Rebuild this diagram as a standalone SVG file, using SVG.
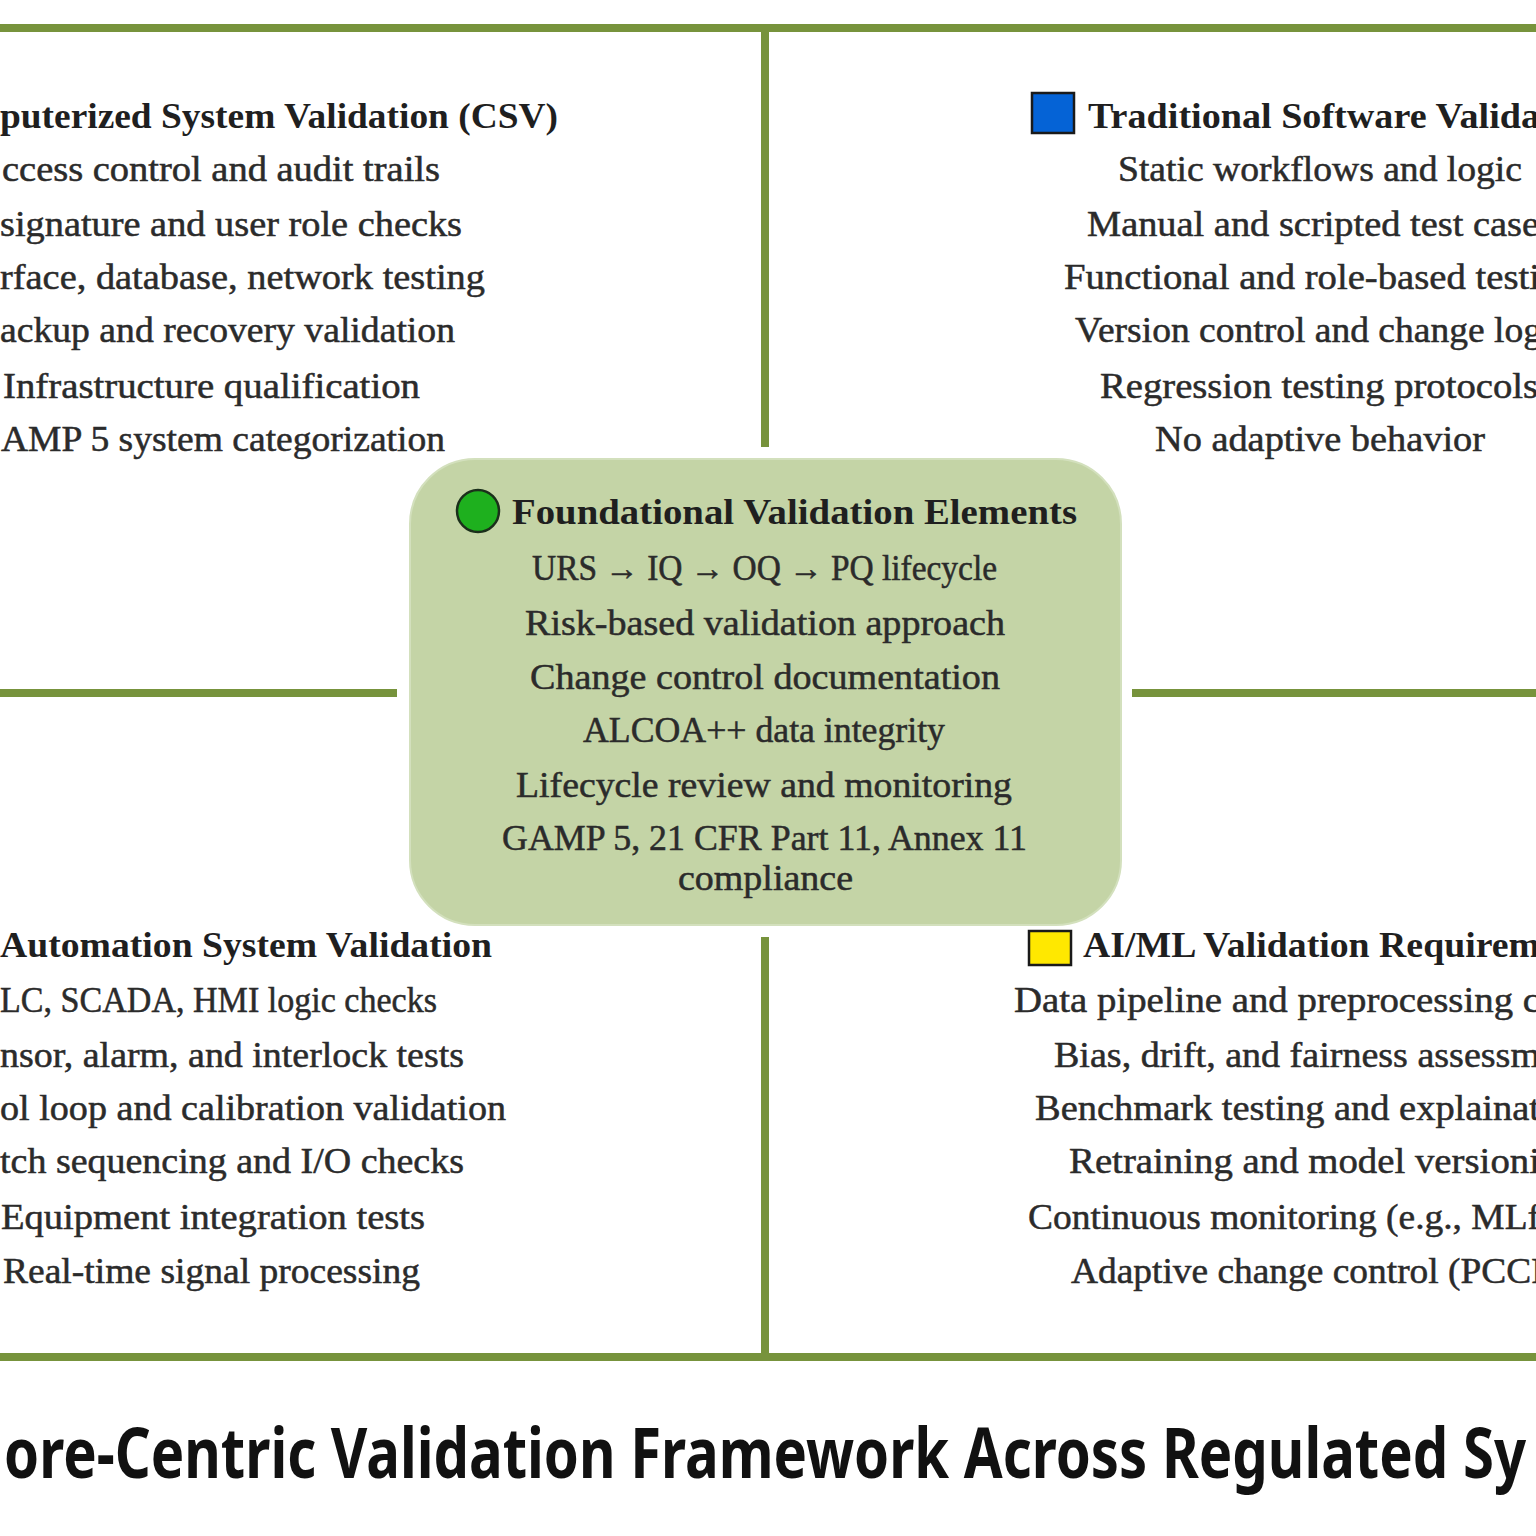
<svg xmlns="http://www.w3.org/2000/svg" width="1536" height="1536" viewBox="0 0 1536 1536">
<style>
.t{font-family:"Liberation Serif","DejaVu Serif",serif;font-size:35px;fill:#2b2b2b;stroke:#2b2b2b;stroke-width:0.5}
.h{font-family:"Liberation Serif","DejaVu Serif",serif;font-size:36px;font-weight:bold;fill:#1f1f1f}
.ln{stroke:#77933c;stroke-width:8;fill:none}
.title{font-family:"Noto Sans","Liberation Sans",sans-serif;font-size:50px;font-weight:bold;fill:#111}
</style>
<rect width="1536" height="1536" fill="#ffffff"/>
<g id="connectors">
<line class="ln" x1="0" y1="28" x2="1536" y2="28"/>
<line class="ln" x1="0" y1="1357" x2="1536" y2="1357"/>
<line class="ln" x1="765" y1="32" x2="765" y2="447"/>
<line class="ln" x1="765" y1="937" x2="765" y2="1354"/>
<line class="ln" x1="0" y1="693" x2="397" y2="693"/>
<line class="ln" x1="1132" y1="693" x2="1536" y2="693"/>
</g>
<g id="csv">
<text class="h" x="0" y="128" textLength="558" lengthAdjust="spacingAndGlyphs">puterized System Validation (CSV)</text>
<text class="t" x="2" y="181" textLength="438" lengthAdjust="spacingAndGlyphs">ccess control and audit trails</text>
<text class="t" x="0" y="236" textLength="462" lengthAdjust="spacingAndGlyphs">signature and user role checks</text>
<text class="t" x="0" y="289" textLength="485" lengthAdjust="spacingAndGlyphs">rface, database, network testing</text>
<text class="t" x="0" y="342" textLength="455" lengthAdjust="spacingAndGlyphs">ackup and recovery validation</text>
<text class="t" x="3" y="398" textLength="417" lengthAdjust="spacingAndGlyphs">Infrastructure qualification</text>
<text class="t" x="1" y="451" textLength="444" lengthAdjust="spacingAndGlyphs">AMP 5 system categorization</text>
</g>
<g id="traditional">
<rect x="1032" y="93" width="42" height="40" fill="#0563d6" stroke="#1a1a1a" stroke-width="2.5"/>
<text class="h" x="1088" y="128" textLength="452" lengthAdjust="spacingAndGlyphs">Traditional Software Valida</text>
<text class="t" x="1118" y="181" textLength="404" lengthAdjust="spacingAndGlyphs">Static workflows and logic</text>
<text class="t" x="1087" y="236" textLength="452" lengthAdjust="spacingAndGlyphs">Manual and scripted test case</text>
<text class="t" x="1064" y="289" textLength="476" lengthAdjust="spacingAndGlyphs">Functional and role-based testi</text>
<text class="t" x="1075" y="342" textLength="467" lengthAdjust="spacingAndGlyphs">Version control and change log</text>
<text class="t" x="1100" y="398" textLength="438" lengthAdjust="spacingAndGlyphs">Regression testing protocols</text>
<text class="t" x="1155" y="451" textLength="330" lengthAdjust="spacingAndGlyphs">No adaptive behavior</text>
</g>
<g id="foundational">
<rect x="410" y="459" width="711" height="466" rx="65" ry="65" fill="#c4d4a6" stroke="#d3e0bd" stroke-width="2"/>
<circle cx="478" cy="511" r="21" fill="#1eb01e" stroke="#1b2f1b" stroke-width="2.5"/>
<text class="h" x="512" y="524" textLength="565" lengthAdjust="spacingAndGlyphs">Foundational Validation Elements</text>
<text class="t" x="532" y="580" textLength="465" lengthAdjust="spacingAndGlyphs">URS → IQ → OQ → PQ lifecycle</text>
<text class="t" x="525" y="635" textLength="480" lengthAdjust="spacingAndGlyphs">Risk-based validation approach</text>
<text class="t" x="530" y="689" textLength="470" lengthAdjust="spacingAndGlyphs">Change control documentation</text>
<text class="t" x="583" y="742" textLength="362" lengthAdjust="spacingAndGlyphs">ALCOA++ data integrity</text>
<text class="t" x="516" y="797" textLength="496" lengthAdjust="spacingAndGlyphs">Lifecycle review and monitoring</text>
<text class="t" x="502" y="850" textLength="525" lengthAdjust="spacingAndGlyphs">GAMP 5, 21 CFR Part 11, Annex 11</text>
<text class="t" x="678" y="890" textLength="175" lengthAdjust="spacingAndGlyphs">compliance</text>
</g>
<g id="automation">
<text class="h" x="0" y="957" textLength="492" lengthAdjust="spacingAndGlyphs">Automation System Validation</text>
<text class="t" x="0" y="1012" textLength="437" lengthAdjust="spacingAndGlyphs">LC, SCADA, HMI logic checks</text>
<text class="t" x="0" y="1067" textLength="464" lengthAdjust="spacingAndGlyphs">nsor, alarm, and interlock tests</text>
<text class="t" x="0" y="1120" textLength="506" lengthAdjust="spacingAndGlyphs">ol loop and calibration validation</text>
<text class="t" x="0" y="1173" textLength="464" lengthAdjust="spacingAndGlyphs">tch sequencing and I/O checks</text>
<text class="t" x="1" y="1229" textLength="424" lengthAdjust="spacingAndGlyphs">Equipment integration tests</text>
<text class="t" x="3" y="1283" textLength="417" lengthAdjust="spacingAndGlyphs">Real-time signal processing</text>
</g>
<g id="aiml">
<rect x="1029" y="931" width="42" height="34" fill="#ffe800" stroke="#1a1a1a" stroke-width="2.5"/>
<text class="h" x="1083" y="957" textLength="457" lengthAdjust="spacingAndGlyphs">AI/ML Validation Requirem</text>
<text class="t" x="1014" y="1012" textLength="526" lengthAdjust="spacingAndGlyphs">Data pipeline and preprocessing c</text>
<text class="t" x="1054" y="1067" textLength="486" lengthAdjust="spacingAndGlyphs">Bias, drift, and fairness assessm</text>
<text class="t" x="1035" y="1120" textLength="505" lengthAdjust="spacingAndGlyphs">Benchmark testing and explainat</text>
<text class="t" x="1069" y="1173" textLength="471" lengthAdjust="spacingAndGlyphs">Retraining and model versioni</text>
<text class="t" x="1028" y="1229" textLength="512" lengthAdjust="spacingAndGlyphs">Continuous monitoring (e.g., MLf</text>
<text class="t" x="1071" y="1283" textLength="481" lengthAdjust="spacingAndGlyphs">Adaptive change control (PCCP</text>
</g>
<g id="caption">
<text class="title" transform="scale(1,1.4)" x="4" y="1055.7" textLength="1522" lengthAdjust="spacingAndGlyphs">ore-Centric Validation Framework Across Regulated Sy</text>
</g>
</svg>
